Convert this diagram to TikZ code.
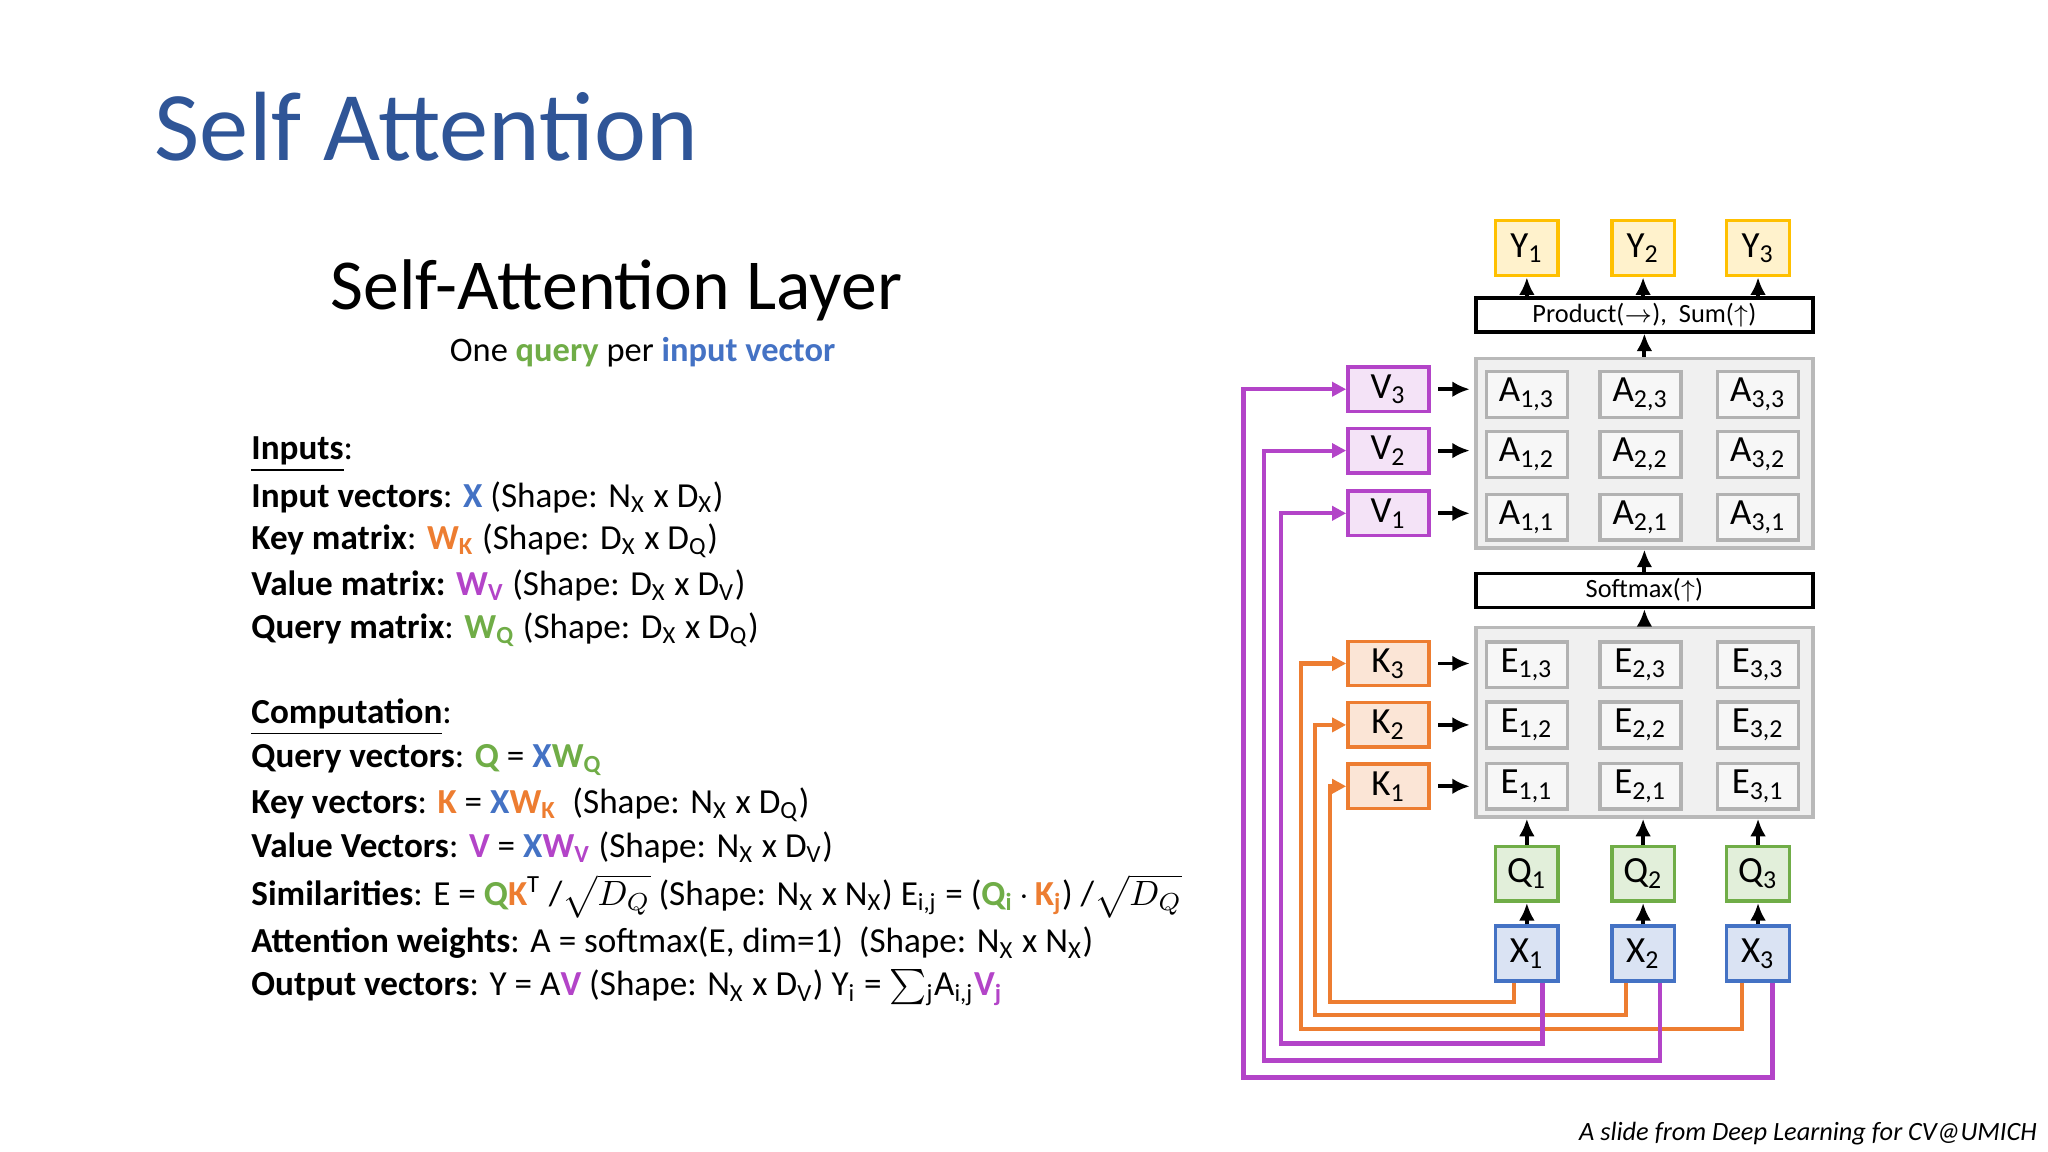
\documentclass[tikz,border=0pt]{standalone}
\usepackage{fontspec}
\setmainfont{Carlito}
\usetikzlibrary{calc,arrows.meta}
\definecolor{ttl}{HTML}{2F5597}
\definecolor{qg}{HTML}{70AD47}
\definecolor{xb}{HTML}{4472C4}
\definecolor{ko}{HTML}{ED7D31}
\definecolor{vp}{HTML}{B344C8}
\definecolor{yy}{HTML}{FFC000}
\newcommand{\cQ}{\textbf{\color{qg}Q}}
\newcommand{\cK}{\textbf{\color{ko}K}}
\newcommand{\cV}{\textbf{\color{vp}V}}
\newcommand{\cX}{\textbf{\color{xb}X}}
\newcommand{\ssb}[1]{\textsubscript{#1}}
\newlength{\unitlen}\setlength{\unitlen}{0.013061cm}
\begin{document}
\begin{tikzpicture}[x=0.013061cm,y=-0.013061cm,
  box/.style={draw,line width=1pt,minimum width=48\unitlen,minimum height=42\unitlen,inner sep=0pt,font=\fontsize{10.5}{12}\selectfont},
  ybox/.style={box,draw=yy,fill=yy!20},
  qbox/.style={box,draw=qg,fill=qg!20},
  xbox/.style={box,draw=xb,fill=xb!20},
  kbox/.style={box,draw=ko,fill=ko!20,minimum width=62\unitlen,minimum height=34\unitlen},
  vbox/.style={box,draw=vp,fill=vp!15,minimum width=62\unitlen,minimum height=34\unitlen},
  cell/.style={draw=gray!60,line width=1pt,fill=gray!6,minimum width=62\unitlen,minimum height=35\unitlen,inner sep=0pt,font=\fontsize{10.5}{12}\selectfont},
  grid/.style={draw=gray!55,line width=1pt,fill=gray!12,minimum width=258\unitlen,minimum height=145\unitlen},
  bar/.style={draw,line width=1pt,fill=white,minimum width=258\unitlen,minimum height=26\unitlen,inner sep=0pt,font=\fontsize{7.5}{8}\selectfont},
  arr/.style={-{Latex[length=5pt,width=4.5pt]},line width=1.1pt},
  ka/.style={ko,line width=1.2pt,-{Triangle[length=4pt,width=4pt]}},
  va/.style={vp,line width=1.2pt,-{Triangle[length=4pt,width=4pt]}},
  txt/.style={anchor=west,font=\fontsize{10}{12}\selectfont,inner sep=0pt}
]
\useasboundingbox (0,0) rectangle (1568,882);
\fill[white] (0,0) rectangle (1568,882);
% titles
\node[anchor=west,text=ttl,font=\fontsize{28}{32}\selectfont,inner sep=0pt] (title) at (118,97) {Self Attention};
\node[font=\fontsize{20.4}{24}\selectfont,inner sep=0pt] (sub) at (472,222) {Self-Attention Layer};
\node[font=\fontsize{9.8}{11}\selectfont,inner sep=0pt] (sub2) at (492,270) {One \textbf{\color{qg}query} per \textbf{\color{xb}input vector}};
% text
\node[txt] (t1) at (192,348) {\textbf{\underline{Inputs}}:};
\node[txt] (t2) at (192,381) {\textbf{Input vectors}: \cX{} (Shape: N\ssb{X} x D\ssb{X})};
\node[txt] (t3) at (192,414) {\textbf{Key matrix}: \textbf{\color{ko}W\ssb{K}} (Shape: D\ssb{X} x D\ssb{Q})};
\node[txt] (t4) at (192,448) {\textbf{Value matrix: \color{vp}W\ssb{V}} (Shape: D\ssb{X} x D\ssb{V})};
\node[txt] (t5) at (192,482) {\textbf{Query matrix}: \textbf{\color{qg}W\ssb{Q}} (Shape: D\ssb{X} x D\ssb{Q})};
\node[txt] (t6) at (192,549) {\textbf{\underline{Computation}}:};
\node[txt] (t7) at (192,582) {\textbf{Query vectors}: \cQ{} = \cX\textbf{\color{qg}W\ssb{Q}}};
\node[txt] (t8) at (192,616) {\textbf{Key vectors}: \cK{} = \cX\textbf{\color{ko}W\ssb{K}}\ \ (Shape: N\ssb{X} x D\ssb{Q})};
\node[txt] (t9) at (192,649) {\textbf{Value Vectors}: \cV{} = \cX\textbf{\color{vp}W\ssb{V}} (Shape: N\ssb{X} x D\ssb{V})};
\node[txt] (t10) at (192,686) {\textbf{Similarities}: E = \cQ\cK\textsuperscript{T} /$\sqrt{D_Q}$ (Shape: N\ssb{X} x N\ssb{X}) E\ssb{i,j} = (\cQ\ssb{\textbf{\color{qg}i}}\,$\cdot$\,\cK\ssb{\textbf{\color{ko}j}}) /$\sqrt{D_Q}$};
\node[txt] (t11) at (192,722) {\textbf{Attention weights}: A = softmax(E, dim=1)\ \ (Shape: N\ssb{X} x N\ssb{X})};
\node[txt] (t12) at (192,756) {\textbf{Output vectors}: Y = A\cV{} (Shape: N\ssb{X} x D\ssb{V}) Y\ssb{i} = $\sum$\ssb{j}A\ssb{i,j}\cV\ssb{\textbf{\color{vp}j}}};
% diagram
\node[ybox] (Y1) at (1169,190) {Y\ssb{1}};
\node[ybox] (Y2) at (1258,190) {Y\ssb{2}};
\node[ybox] (Y3) at (1346,190) {Y\ssb{3}};
\node[bar] (P) at (1259,241) {Product($\rightarrow$),\ \ Sum($\uparrow$)};
\node[grid] (AG) at (1259,347) {};
\node[bar] (S) at (1259,452) {Softmax($\uparrow$)};
\node[grid] (EG) at (1259,553) {};
\foreach \c/\x in {1/1169,2/1256,3/1346}{
  \foreach \r/\y in {1/396,2/348,3/302}{
    \node[cell] (A\c\r) at (\x,\y) {A\ssb{\c,\r}};
  }
  \foreach \r/\y in {1/602,2/555,3/509}{
    \node[cell] (E\c\r) at (\x,\y) {E\ssb{\c,\r}};
  }
}
\node[qbox] (Q1) at (1169,669) {Q\ssb{1}};
\node[qbox] (Q2) at (1258,669) {Q\ssb{2}};
\node[qbox] (Q3) at (1346,669) {Q\ssb{3}};
\node[xbox] (X1) at (1169,730) {X\ssb{1}};
\node[xbox] (X2) at (1258,730) {X\ssb{2}};
\node[xbox] (X3) at (1346,730) {X\ssb{3}};
\node[vbox] (V3) at (1063,298) {V\ssb{3}};
\node[vbox] (V2) at (1063,345) {V\ssb{2}};
\node[vbox] (V1) at (1063,393) {V\ssb{1}};
\node[kbox] (K3) at (1063,508) {K\ssb{3}};
\node[kbox] (K2) at (1063,555) {K\ssb{2}};
\node[kbox] (K1) at (1063,602) {K\ssb{1}};
% black arrows
\foreach \i in {1,2,3}{
  \draw[arr] (P.north -| Y\i) -- (Y\i.south);
  \draw[arr] (X\i) -- (Q\i);
  \draw[arr] (Q\i.north) -- (EG.south -| Q\i);
  \draw[arr] ($(V\i.east)+(6,0)$) -- ($(V\i.east)+(30,0)$);
  \draw[arr] ($(K\i.east)+(6,0)$) -- ($(K\i.east)+(30,0)$);
}
\draw[arr] (AG.north) -- (P.south);
\draw[arr] (S.north) -- (AG.south);
\draw[arr] (EG.north) -- (S.south);
% coloured connectors
\coordinate (k1) at (1018,767);
\coordinate (k2) at (1007,777);
\coordinate (k3) at (996,788);
\coordinate (v1) at (981,799);
\coordinate (v2) at (968,812);
\coordinate (v3) at (952,825);
\draw[ka] ($(X1.south)+(-10,0)$) |- (k1) |- (K1.west);
\draw[ka] ($(X2.south)+(-13,0)$) |- (k2) |- (K2.west);
\draw[ka] ($(X3.south)+(-12,0)$) |- (k3) |- (K3.west);
\draw[va] ($(X1.south)+(12,0)$) |- (v1) |- (V1.west);
\draw[va] ($(X2.south)+(13,0)$) |- (v2) |- (V2.west);
\draw[va] ($(X3.south)+(11,0)$) |- (v3) |- (V3.west);
% footer
\node[anchor=east,font=\fontsize{7.5}{9}\selectfont\itshape,inner sep=0pt] (foot) at (1560,868) {A slide from Deep Learning for CV@UMICH};
\end{tikzpicture}
\end{document}
